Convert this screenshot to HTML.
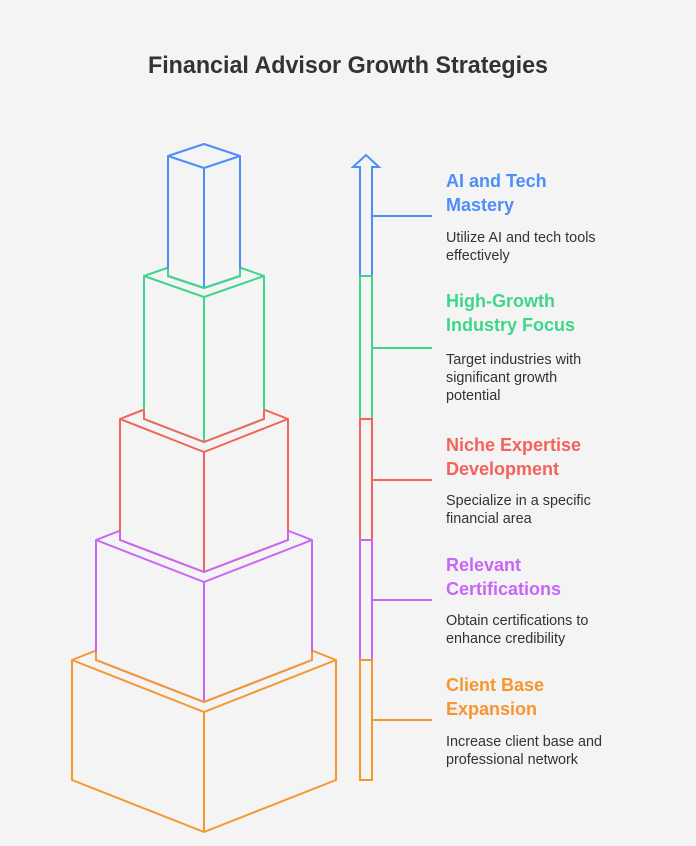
<!DOCTYPE html>
<html><head><meta charset="utf-8"><style>
html,body{margin:0;padding:0;background:#f4f4f4;}
svg{display:block;font-family:"Liberation Sans",sans-serif;}
</style></head><body>
<svg width="696" height="846" viewBox="0 0 696 846" xmlns="http://www.w3.org/2000/svg">
<rect width="696" height="846" fill="#f4f4f4"/>
<text x="348" y="73" text-anchor="middle" font-size="24" font-weight="bold" fill="#333" textLength="400" lengthAdjust="spacingAndGlyphs">Financial Advisor Growth Strategies</text>
<g stroke-width="2" stroke-linejoin="round" fill="#f4f4f4">
<g stroke="#f7962e">
<polygon points="72,660 204,608 336,660 336,780 204,832 72,780"/>
<polyline points="72,660 204,712 336,660" fill="none"/>
<line x1="204" y1="712" x2="204" y2="832"/>
</g>
<g stroke="#c866f5">
<polygon points="96,540 204,498 312,540 312,660 204,702 96,660"/>
<polyline points="96,540 204,582 312,540" fill="none"/>
<line x1="204" y1="582" x2="204" y2="702"/>
</g>
<polyline points="96,652 96,660 204,702 312,660 312,652" fill="none" stroke="#f7962e"/>
<g stroke="#f2635c">
<polygon points="120,419 204,386 288,419 288,540 204,572 120,540"/>
<polyline points="120,419 204,452 288,419" fill="none"/>
<line x1="204" y1="452" x2="204" y2="572"/>
</g>
<polyline points="120,531 120,540 204,572 288,540 288,531" fill="none" stroke="#c866f5"/>
<g stroke="#3fd68c">
<polygon points="144,276 204,255 264,276 264,419 204,442 144,419"/>
<polyline points="144,276 204,297 264,276" fill="none"/>
<line x1="204" y1="297" x2="204" y2="442"/>
</g>
<polyline points="144,410 144,419 204,442 264,419 264,410" fill="none" stroke="#f2635c"/>
<g stroke="#4e8ef7">
<polygon points="168,156 204,144 240,156 240,276 204,288 168,276"/>
<polyline points="168,156 204,168 240,156" fill="none"/>
<line x1="204" y1="168" x2="204" y2="288"/>
</g>
<polyline points="168,269 168,276 204,288 240,276 240,269" fill="none" stroke="#3fd68c"/>
</g>
<g stroke-width="2" fill="none">
<polygon points="360,276 360,167 353,167 366,155 379,167 372,167 372,276" stroke="#4e8ef7"/>
<rect x="360" y="276" width="12" height="143" stroke="#3fd68c"/>
<rect x="360" y="419" width="12" height="121" stroke="#f2635c"/>
<rect x="360" y="540" width="12" height="120" stroke="#c866f5"/>
<rect x="360" y="660" width="12" height="120" stroke="#f7962e"/>
<line x1="372" y1="216" x2="432" y2="216" stroke="#4e8ef7"/>
<line x1="372" y1="348" x2="432" y2="348" stroke="#3fd68c"/>
<line x1="372" y1="480" x2="432" y2="480" stroke="#f2635c"/>
<line x1="372" y1="600" x2="432" y2="600" stroke="#c866f5"/>
<line x1="372" y1="720" x2="432" y2="720" stroke="#f7962e"/>
</g>
<g font-size="18" font-weight="bold">
<text x="446" y="187" fill="#4e8ef7">AI and Tech</text>
<text x="446" y="211" fill="#4e8ef7">Mastery</text>
<text x="446" y="307" fill="#3fd68c">High-Growth</text>
<text x="446" y="331" fill="#3fd68c">Industry Focus</text>
<text x="446" y="451" fill="#f2635c">Niche Expertise</text>
<text x="446" y="475" fill="#f2635c">Development</text>
<text x="446" y="571" fill="#c866f5">Relevant</text>
<text x="446" y="595" fill="#c866f5">Certifications</text>
<text x="446" y="691" fill="#f7962e">Client Base</text>
<text x="446" y="715" fill="#f7962e">Expansion</text>
</g>
<g font-size="14.4" fill="#333">
<text x="446" y="242">Utilize AI and tech tools</text>
<text x="446" y="260">effectively</text>
<text x="446" y="364">Target industries with</text>
<text x="446" y="382">significant growth</text>
<text x="446" y="400">potential</text>
<text x="446" y="505">Specialize in a specific</text>
<text x="446" y="523">financial area</text>
<text x="446" y="625">Obtain certifications to</text>
<text x="446" y="643">enhance credibility</text>
<text x="446" y="746">Increase client base and</text>
<text x="446" y="764">professional network</text>
</g>
</svg>
</body></html>
